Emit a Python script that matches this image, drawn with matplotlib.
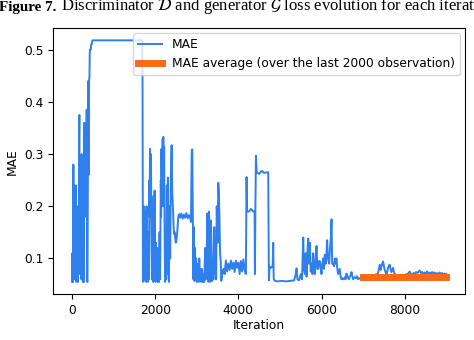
import matplotlib
matplotlib.use("Agg")
import matplotlib.pyplot as plt

# MAE per training iteration, as (iteration, MAE) samples grouped by phase
early_phase = [
    (0, 0.055), (5, 0.11), (10, 0.06), (18, 0.10), (24, 0.055), (32, 0.28), (38, 0.12),
    (45, 0.06), (50, 0.20), (55, 0.24), (60, 0.07), (65, 0.20), (70, 0.06), (75, 0.22),
    (80, 0.10), (85, 0.06), (90, 0.18), (95, 0.24), (100, 0.08), (105, 0.055), (110, 0.20),
    (115, 0.17), (120, 0.06), (125, 0.12), (132, 0.07), (140, 0.12), (145, 0.055), (152, 0.20),
    (158, 0.08), (165, 0.25), (170, 0.33), (176, 0.375), (181, 0.22), (185, 0.10), (190, 0.20),
    (195, 0.07), (200, 0.23), (205, 0.15), (212, 0.07), (220, 0.19), (226, 0.06), (232, 0.30),
    (237, 0.22), (242, 0.29), (248, 0.07), (254, 0.12), (260, 0.055), (268, 0.20), (275, 0.19),
    (280, 0.07), (285, 0.055), (290, 0.25), (296, 0.36), (300, 0.30), (305, 0.22), (310, 0.24),
    (315, 0.19), (320, 0.26), (325, 0.24), (330, 0.19), (335, 0.18), (340, 0.25), (345, 0.30),
    (348, 0.38), (352, 0.385), (356, 0.20), (360, 0.06), (366, 0.055), (372, 0.055), (376, 0.15),
    (380, 0.25), (385, 0.38), (390, 0.44), (395, 0.30), (400, 0.26), (405, 0.38), (410, 0.44),
    (420, 0.45), (425, 0.49), (430, 0.50), (450, 0.50), (460, 0.51), (470, 0.51), (488, 0.518),
    (1690, 0.518),
]
unstable_phase = [
    (1695, 0.45), (1700, 0.20), (1705, 0.06), (1710, 0.15), (1715, 0.055), (1720, 0.12),
    (1725, 0.20), (1730, 0.10), (1735, 0.06), (1742, 0.16), (1748, 0.19), (1753, 0.12),
    (1758, 0.08), (1764, 0.06), (1770, 0.13), (1775, 0.09), (1780, 0.055), (1786, 0.15),
    (1792, 0.20), (1797, 0.12), (1802, 0.07), (1808, 0.10), (1815, 0.12), (1820, 0.07),
    (1825, 0.055), (1832, 0.10), (1840, 0.15), (1845, 0.09), (1850, 0.06), (1856, 0.16),
    (1862, 0.25), (1868, 0.18), (1874, 0.31), (1880, 0.26), (1885, 0.20), (1892, 0.29),
    (1898, 0.30), (1904, 0.22), (1910, 0.15), (1916, 0.10), (1922, 0.06), (1928, 0.09),
    (1935, 0.12), (1942, 0.07), (1950, 0.055), (1956, 0.15), (1962, 0.22), (1968, 0.12),
    (1975, 0.16), (1980, 0.10), (1985, 0.23), (1990, 0.15), (1995, 0.09), (2002, 0.12),
    (2008, 0.055), (2014, 0.09), (2020, 0.13), (2027, 0.08), (2034, 0.06), (2041, 0.10),
    (2048, 0.12), (2054, 0.08), (2060, 0.055), (2068, 0.08), (2075, 0.10), (2082, 0.07),
    (2090, 0.055), (2098, 0.11), (2105, 0.15), (2112, 0.09), (2118, 0.06), (2126, 0.14),
    (2135, 0.25), (2142, 0.18), (2150, 0.31), (2158, 0.25), (2165, 0.20), (2172, 0.28),
    (2180, 0.33), (2188, 0.26), (2195, 0.333), (2200, 0.25), (2205, 0.20), (2210, 0.27),
    (2215, 0.314), (2220, 0.22), (2225, 0.16), (2232, 0.10), (2238, 0.055), (2244, 0.09),
    (2250, 0.12), (2258, 0.08), (2265, 0.06), (2272, 0.15), (2280, 0.24), (2286, 0.14),
    (2292, 0.07), (2298, 0.18), (2305, 0.255), (2312, 0.18), (2318, 0.12), (2324, 0.08),
    (2330, 0.055), (2338, 0.14), (2345, 0.20), (2352, 0.14), (2360, 0.10), (2368, 0.17),
    (2375, 0.25), (2385, 0.29), (2395, 0.317), (2403, 0.27), (2410, 0.226), (2420, 0.21),
    (2430, 0.19), (2442, 0.16), (2455, 0.147), (2468, 0.15), (2480, 0.14), (2495, 0.13),
    (2510, 0.135), (2530, 0.15), (2555, 0.18), (2580, 0.185), (2600, 0.178), (2630, 0.186),
    (2660, 0.176), (2690, 0.184), (2720, 0.178), (2750, 0.187), (2780, 0.177), (2810, 0.183),
    (2836, 0.18), (2860, 0.17), (2878, 0.305), (2892, 0.309), (2905, 0.19), (2918, 0.06),
    (2930, 0.16), (2945, 0.057), (2958, 0.12), (2970, 0.06), (2985, 0.10), (3000, 0.055),
    (3015, 0.07), (3030, 0.09), (3045, 0.055), (3060, 0.10), (3075, 0.06), (3090, 0.08),
    (3105, 0.055), (3120, 0.08), (3135, 0.07), (3150, 0.055), (3165, 0.07), (3180, 0.055),
    (3200, 0.12), (3215, 0.06), (3235, 0.075), (3251, 0.186), (3265, 0.135), (3280, 0.055),
    (3295, 0.19), (3310, 0.10), (3325, 0.055), (3340, 0.173), (3355, 0.122), (3370, 0.057),
    (3385, 0.095), (3400, 0.06), (3420, 0.16), (3435, 0.07), (3450, 0.14), (3465, 0.06),
    (3480, 0.20), (3500, 0.13), (3517, 0.245), (3530, 0.226), (3545, 0.18), (3560, 0.11),
    (3575, 0.095), (3590, 0.057),
]
middle_phase = [
    (3610, 0.07), (3640, 0.08), (3670, 0.07), (3700, 0.096), (3730, 0.075), (3760, 0.09),
    (3790, 0.078), (3820, 0.096), (3850, 0.08), (3880, 0.092), (3910, 0.074), (3940, 0.096),
    (3970, 0.082), (4000, 0.092), (4030, 0.07), (4060, 0.095), (4090, 0.075), (4120, 0.098),
    (4150, 0.078), (4180, 0.07), (4197, 0.256), (4210, 0.19), (4260, 0.19), (4300, 0.195),
    (4360, 0.19), (4390, 0.19), (4398, 0.07), (4410, 0.20), (4422, 0.297), (4440, 0.265),
    (4500, 0.262), (4560, 0.268), (4620, 0.264), (4680, 0.265), (4718, 0.265), (4734, 0.058),
    (4750, 0.085), (4790, 0.082), (4825, 0.085), (4838, 0.13), (4850, 0.06), (4880, 0.057),
    (4950, 0.056), (5050, 0.057), (5150, 0.056), (5250, 0.057), (5340, 0.058), (5380, 0.07),
    (5400, 0.081), (5420, 0.06), (5460, 0.058), (5500, 0.07), (5530, 0.06), (5560, 0.14),
    (5575, 0.08), (5600, 0.07), (5620, 0.11), (5640, 0.065), (5665, 0.12), (5680, 0.138),
    (5700, 0.09), (5720, 0.13), (5740, 0.075), (5760, 0.09), (5780, 0.07), (5800, 0.11),
    (5820, 0.08), (5840, 0.07), (5860, 0.10), (5880, 0.124), (5900, 0.08), (5919, 0.08),
    (5940, 0.095), (5959, 0.095), (5980, 0.08), (5999, 0.07), (6020, 0.09), (6040, 0.10),
    (6060, 0.08), (6079, 0.107), (6100, 0.09), (6120, 0.11), (6135, 0.135), (6155, 0.10),
    (6183, 0.09), (6205, 0.12), (6225, 0.14), (6240, 0.175), (6255, 0.09), (6279, 0.09),
    (6300, 0.085), (6320, 0.10), (6340, 0.09), (6359, 0.10), (6380, 0.08), (6399, 0.07),
    (6420, 0.075), (6439, 0.08), (6460, 0.065), (6479, 0.06), (6500, 0.062), (6530, 0.06),
    (6559, 0.064), (6580, 0.06), (6600, 0.071), (6630, 0.065), (6660, 0.06), (6680, 0.065),
    (6700, 0.068), (6720, 0.074), (6740, 0.066), (6760, 0.06), (6790, 0.064), (6820, 0.062),
    (6850, 0.066), (6880, 0.06), (6910, 0.062),
]
late_phase = [
    (6950, 0.062), (6990, 0.066), (7030, 0.06), (7070, 0.064), (7110, 0.061), (7150, 0.065),
    (7190, 0.062), (7230, 0.066), (7270, 0.063), (7310, 0.07), (7350, 0.068), (7380, 0.08),
    (7400, 0.088), (7420, 0.078), (7440, 0.085), (7460, 0.09), (7480, 0.094), (7500, 0.085),
    (7520, 0.078), (7540, 0.074), (7560, 0.068), (7580, 0.075), (7600, 0.082), (7620, 0.086),
    (7640, 0.088), (7660, 0.08), (7680, 0.074), (7700, 0.078), (7720, 0.082), (7740, 0.074),
    (7760, 0.07), (7790, 0.068), (7820, 0.066), (7850, 0.068), (7880, 0.065), (7910, 0.066),
    (7940, 0.064), (7970, 0.068), (8000, 0.066), (8030, 0.07), (8060, 0.068), (8090, 0.072),
    (8120, 0.075), (8150, 0.07), (8180, 0.068), (8210, 0.072), (8240, 0.07), (8270, 0.074),
    (8300, 0.072), (8330, 0.074), (8360, 0.077), (8390, 0.072), (8420, 0.074), (8450, 0.07),
    (8480, 0.073), (8510, 0.071), (8540, 0.075), (8570, 0.071), (8600, 0.073), (8630, 0.07),
    (8660, 0.074), (8690, 0.071), (8720, 0.073), (8750, 0.07), (8780, 0.072), (8810, 0.069),
    (8840, 0.073), (8870, 0.07), (8900, 0.072), (8930, 0.069), (8960, 0.071), (9000, 0.07),
]

# Mean MAE over the final 2000 observations
avg_iteration = [7000, 9000]
avg_mae = [0.065, 0.065]

labels = ["MAE", "MAE average (over the last 2000 observation)"]

samples = early_phase + unstable_phase + middle_phase + late_phase
iteration = [s[0] for s in samples]
mae = [s[1] for s in samples]

plt.rcParams["mathtext.fontset"] = "stix"
plt.rcParams["font.size"] = 8.8

fig = plt.figure(figsize=(4.74, 3.4), dpi=100)
ax = fig.add_axes([0.1125, 0.1353, 0.8685, 0.7815])

ax.plot(iteration, mae, color="#2f80ed", linewidth=1.4, label=labels[0])
ax.plot(avg_iteration, avg_mae, color="#fb6a12", linewidth=5, label=labels[1])

ax.set_xticks([0, 2000, 4000, 6000, 8000])
ax.set_yticks([0.1, 0.2, 0.3, 0.4, 0.5])
ax.set_xlabel("Iteration", labelpad=1.5)
ax.set_ylabel("MAE")
ax.legend(loc="upper right", fontsize=8.8, borderaxespad=0.4)

# Paper caption above the plot
cap_y = 1 - 10.5 / 340
t1 = fig.text(-0.003, cap_y, "Figure 7.", family="Liberation Serif",
              fontweight="bold", fontsize=10.9, va="baseline", ha="left")
fig.canvas.draw()
bb = t1.get_window_extent()
x2 = (bb.x1 + 5) / fig.bbox.width
fig.text(x2, cap_y,
         r"Discriminator $\mathcal{D}$ and generator $\mathcal{G}$ loss evolution for each iteration.",
         family="Liberation Serif", fontsize=12, va="baseline", ha="left")

fig.savefig("out.png", dpi=100)
